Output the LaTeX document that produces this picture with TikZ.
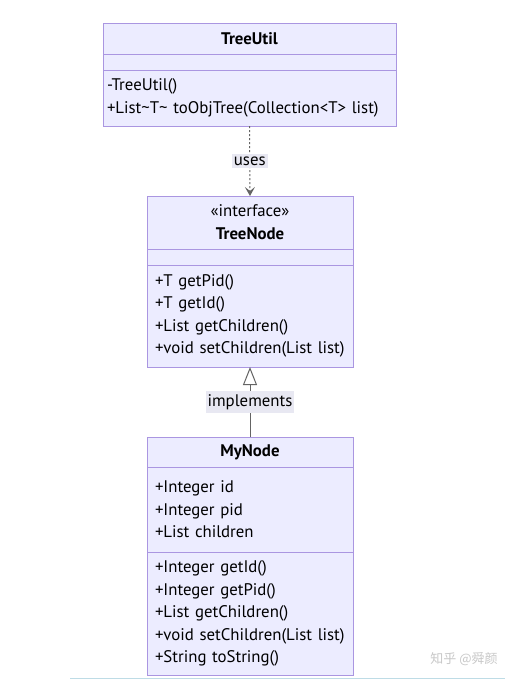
\documentclass[tikz,border=0pt]{standalone}
\usepackage{fontspec}
\setmainfont{PT Sans}
\newfontfamily\cjkfont{Noto Sans CJK SC}
\usetikzlibrary{arrows.meta, positioning}
\definecolor{umlfill}{RGB}{236,236,255}
\definecolor{umlstroke}{RGB}{170,150,225}
\definecolor{edgegray}{RGB}{100,100,100}
\definecolor{labelbg}{RGB}{232,232,242}
\definecolor{rulecolor}{RGB}{190,220,230}
\definecolor{markgray}{RGB}{200,200,200}
\tikzset{
  compartment/.style={
    rectangle, draw=umlstroke, fill=umlfill, line width=1pt,
    outer sep=0pt, inner ysep=0pt, anchor=north,
    font=\fontsize{16.8}{22.5}\selectfont
  },
  wideclass/.style={compartment, minimum width=293pt, text width=285pt, inner xsep=4pt},
  narrowclass/.style={compartment, minimum width=206pt, text width=190pt, inner xsep=8pt},
  classname/.style={align=center, font=\fontsize{16.8}{23}\selectfont\bfseries},
  members/.style={align=left},
  edgelabel/.style={fill=labelbg, inner xsep=2pt, inner ysep=3pt,
    font=\fontsize{16.8}{18}\selectfont},
  depends/.style={draw=edgegray, line width=1pt, dash pattern=on 2pt off 2pt,
    -{Stealth[length=9pt, width=10pt, inset=4pt, fill=edgegray]}},
  realizes/.style={draw=edgegray, line width=1pt,
    -{Triangle[open, length=18pt, width=14pt, fill=white]}},
  watermark/.style={text=markgray, font=\cjkfont\fontsize{13}{15}\selectfont}
}
\begin{document}
\begin{tikzpicture}[x=1pt, y=-1pt]
  \fill[white] (0,0) rectangle (517,681);
  \useasboundingbox (0,0) rectangle (517,681);

  % Utility class
  \node[wideclass, classname, minimum height=31pt] (utilName) at (249.5,23) {TreeUtil};
  \node[wideclass, minimum height=16pt, below=0pt of utilName] (utilAttr) {};
  \node[wideclass, members, minimum height=56pt, below=0pt of utilAttr] (utilOps)
        {-TreeUtil()\\+List\textasciitilde T\textasciitilde{} toObjTree(Collection<T> list)};

  % Interface
  \node[narrowclass, classname, minimum height=53pt] (ifaceName) at (250,196)
        {{\mdseries «interface»}\\TreeNode};
  \node[narrowclass, minimum height=16pt, below=0pt of ifaceName] (ifaceAttr) {};
  \node[narrowclass, members, minimum height=102pt, below=0pt of ifaceAttr] (ifaceOps)
        {+T getPid()\\+T getId()\\+List getChildren()\\+void setChildren(List list)};

  % Implementing class
  \node[narrowclass, classname, minimum height=30pt] (implName) at (250,437) {MyNode};
  \node[narrowclass, members, minimum height=85pt, below=0pt of implName] (implAttr)
        {+Integer id\\+Integer pid\\+List children};
  \node[narrowclass, members, minimum height=123pt, below=0pt of implAttr] (implOps)
        {+Integer getId()\\+Integer getPid()\\+List getChildren()\\
         +void setChildren(List list)\\+String toString()};

  % Relations
  \draw[depends] (utilOps.south) -- node[edgelabel] {uses} (ifaceName.north);
  \draw[realizes] (implName.north) -- node[edgelabel] {implements} (ifaceOps.south);

  % Page footer
  \node[watermark] (mark) at (464,659) {知乎 @舜颜};
  \draw[rulecolor, line width=1pt] (70,678) -- (505,678);
\end{tikzpicture}
\end{document}
